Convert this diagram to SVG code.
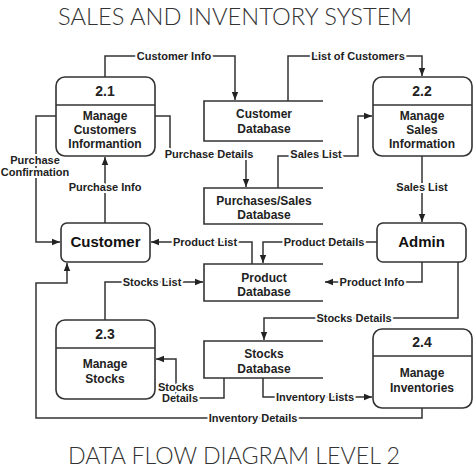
<svg xmlns="http://www.w3.org/2000/svg" width="474" height="474" viewBox="0 0 474 474">
<style>
.title{font-family:Lato,"Open Sans","Liberation Sans",sans-serif;font-weight:300;font-size:24px;fill:#333;text-anchor:middle}
.box{fill:#fff;stroke:#333;stroke-width:1.6}
.ds{fill:#fff;stroke:#333;stroke-width:1.6}
.ln{fill:none;stroke:#333;stroke-width:1.5}
.nt{font-family:"Liberation Sans",Arial,sans-serif;font-weight:bold;font-size:12px;fill:#222;text-anchor:middle}
.num{font-family:"Liberation Sans",Arial,sans-serif;font-weight:bold;font-size:14px;fill:#222;text-anchor:middle}
.ent{font-family:"Liberation Sans",Arial,sans-serif;font-weight:bold;font-size:15px;fill:#111;text-anchor:middle}
.lb{font-family:"Liberation Sans",Arial,sans-serif;font-weight:bold;font-size:11px;fill:#222;text-anchor:middle;stroke:#fff;stroke-width:4;paint-order:stroke;stroke-linejoin:round}
</style>
<defs>
<marker id="arr" viewBox="0 0 10 10" refX="10" refY="5" markerWidth="8" markerHeight="8" markerUnits="userSpaceOnUse" orient="auto"><path d="M0,1 L10,5 L0,9 z" fill="#222"/></marker>
</defs>
<rect width="474" height="474" fill="#fff"/>
<text class="title" x="235" y="25" textLength="354" lengthAdjust="spacingAndGlyphs">SALES AND INVENTORY SYSTEM</text>
<text class="title" x="234" y="464" textLength="332" lengthAdjust="spacingAndGlyphs">DATA FLOW DIAGRAM LEVEL 2</text>

<g id="connectors">
<path class="ln" marker-end="url(#arr)" d="M105,77 V56 H235 V100"/>
<path class="ln" marker-end="url(#arr)" d="M288,101 V56 H422 V76"/>
<path class="ln" marker-end="url(#arr)" d="M155,116 H170 V154 H246 V187"/>
<path class="ln" marker-end="url(#arr)" d="M278,188 V156 H358 V116 H372"/>
<path class="ln" marker-end="url(#arr)" d="M422,156 V222"/>
<path class="ln" marker-end="url(#arr)" d="M105,223 V157"/>
<path class="ln" marker-end="url(#arr)" d="M56,116 H36 V242 H60"/>
<path class="ln" marker-end="url(#arr)" d="M252,264 V242 H151"/>
<path class="ln" marker-end="url(#arr)" d="M377,242 H263 V263"/>
<path class="ln" marker-end="url(#arr)" d="M422,262 V282 H325"/>
<path class="ln" marker-end="url(#arr)" d="M105,320 V282 H203"/>
<path class="ln" marker-end="url(#arr)" d="M458,262 V318 H264 V340"/>
<path class="ln" marker-end="url(#arr)" d="M224,378 V398 H176 V359 H156"/>
<path class="ln" marker-end="url(#arr)" d="M263,378 V397 H372"/>
<path class="ln" marker-end="url(#arr)" d="M422,408 V418 H36 V283 H67 V263"/>
<text class="lb" x="174" y="60">Customer Info</text>
<text class="lb" x="358" y="60">List of Customers</text>
<text class="lb" x="209" y="158">Purchase Details</text>
<text class="lb" x="316" y="158">Sales List</text>
<text class="lb" x="422" y="191">Sales List</text>
<text class="lb" x="105" y="191">Purchase Info</text>
<text class="lb" x="35" y="164">Purchase</text>
<text class="lb" x="35" y="176">Confirmation</text>
<text class="lb" x="205" y="246">Product List</text>
<text class="lb" x="324" y="246">Product Details</text>
<text class="lb" x="372" y="286">Product Info</text>
<text class="lb" x="152" y="286">Stocks List</text>
<text class="lb" x="354" y="322">Stocks Details</text>
<text class="lb" x="176" y="391">Stocks</text>
<text class="lb" x="180" y="402">Details</text>
<text class="lb" x="315" y="401">Inventory Lists</text>
<text class="lb" x="253" y="422">Inventory Details</text>
</g>

<g id="p21">
<rect class="box" x="56" y="77" width="99" height="79" rx="9"/>
<line class="ln" x1="56" y1="105" x2="155" y2="105"/>
<text class="num" x="105" y="96">2.1</text>
<text class="nt" x="105" y="120">Manage</text>
<text class="nt" x="105" y="134">Customers</text>
<text class="nt" x="105" y="148">Informantion</text>
</g>
<g id="p22">
<rect class="box" x="373" y="77" width="99" height="79" rx="9"/>
<line class="ln" x1="373" y1="105" x2="472" y2="105"/>
<text class="num" x="422" y="96">2.2</text>
<text class="nt" x="422" y="120">Manage</text>
<text class="nt" x="422" y="134">Sales</text>
<text class="nt" x="422" y="148">Information</text>
</g>
<g id="p23">
<rect class="box" x="56" y="320" width="99" height="79" rx="9"/>
<line class="ln" x1="56" y1="348" x2="155" y2="348"/>
<text class="num" x="105" y="339">2.3</text>
<text class="nt" x="105" y="368">Manage</text>
<text class="nt" x="105" y="383">Stocks</text>
</g>
<g id="p24">
<rect class="box" x="373" y="329" width="99" height="79" rx="9"/>
<line class="ln" x1="373" y1="356" x2="472" y2="356"/>
<text class="num" x="422" y="347">2.4</text>
<text class="nt" x="422" y="377">Manage</text>
<text class="nt" x="422" y="392">Inventories</text>
</g>
<g id="customer">
<rect class="box" x="61" y="223" width="89" height="39" rx="6"/>
<text class="ent" x="105.5" y="247">Customer</text>
</g>
<g id="admin">
<rect class="box" x="377" y="223" width="89" height="39" rx="6"/>
<text class="ent" x="421.5" y="247">Admin</text>
</g>
<g id="customerdb">
<path class="ds" d="M323,101 H204 V141 H323"/>
<text class="nt" x="264" y="118">Customer</text>
<text class="nt" x="264" y="133">Database</text>
</g>
<g id="purchasesdb">
<path class="ds" d="M323,188 H204 V224 H323"/>
<text class="nt" x="264" y="205">Purchases/Sales</text>
<text class="nt" x="264" y="219">Database</text>
</g>
<g id="productdb">
<path class="ds" d="M323,264 H204 V301 H323"/>
<text class="nt" x="264" y="282">Product</text>
<text class="nt" x="264" y="296">Database</text>
</g>
<g id="stocksdb">
<path class="ds" d="M323,341 H204 V378 H323"/>
<text class="nt" x="264" y="358">Stocks</text>
<text class="nt" x="264" y="373">Database</text>
</g>
</svg>
